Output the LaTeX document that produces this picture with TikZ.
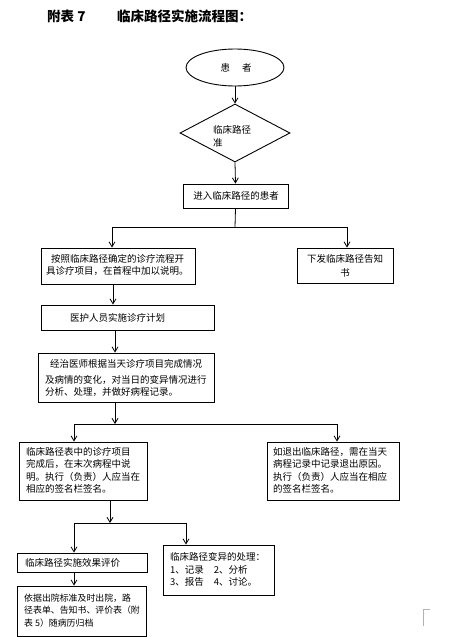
\documentclass[tikz,border=0pt]{standalone}
\usepackage{fontspec}
\setmainfont{Noto Sans CJK SC}
\usetikzlibrary{arrows.meta,shapes.geometric}
\begin{document}
\begin{tikzpicture}[x=1pt,y=-1pt,
  box/.style={draw, line width=0.9pt, inner sep=0pt, rectangle},
  txt/.style={inner sep=0pt, align=left, anchor=west, font=\fontsize{9.5}{12.5}\selectfont},
  ctxt/.style={inner sep=0pt, align=center, font=\fontsize{9.5}{14}\selectfont},
  ttl/.style={inner sep=0pt, anchor=west, font=\fontsize{13.5}{15}\selectfont\bfseries},
  arr/.style={draw, line width=0.8pt, -{Straight Barb[length=5pt,width=6pt]}},
  ln/.style={draw, line width=0.8pt}]
\useasboundingbox (0,0) rectangle (450,637);
% title
\node[ttl] (t1) at (47,16) {附表 7};
\node[ttl] (t2) at (117,16) {临床路径实施流程图：};
% shapes
\node[ellipse, draw, line width=0.9pt, inner sep=0pt, minimum width=98pt, minimum height=37pt] (ell) at (235,67.5) {};
\node[ctxt] (ellt) at (236,67.5) {患\hspace{12pt}者};
\node[diamond, draw, line width=0.9pt, inner sep=0pt, minimum width=110pt, minimum height=58pt] (dia) at (235,133) {};
\node[txt] (diat) at (213,136.5) {临床路径\\准};
\node[box, minimum width=105pt, minimum height=24pt] (b1) at (235.5,196) {};
\node[ctxt] (b1t) at (236,196) {进入临床路径的患者};
\node[box, minimum width=154pt, minimum height=36pt] (b2l) at (118,266) {};
\node[txt] (b2lt) at (46,265) {\hspace*{5pt}按照临床路径确定的诊疗流程开\\具诊疗项目，在首程中加以说明。};
\node[box, minimum width=96pt, minimum height=35pt] (b2r) at (345,265.5) {};
\node[ctxt] (b2rt) at (345,266) {下发临床路径告知\\书};
\node[box, minimum width=173pt, minimum height=25pt] (b3) at (127.5,317.5) {};
\node[txt] (b3t) at (70,317.5) {医护人员实施诊疗计划};
\node[box, minimum width=176pt, minimum height=49pt] (b4) at (126,377.5) {};
\node[txt] (b4t) at (45,378) {\hspace*{5pt}经治医师根据当天诊疗项目完成情况\\[3pt]及病情的变化，对当日的变异情况进行\\分析、处理，并做好病程记录。};
\node[box, minimum width=128pt, minimum height=58pt] (b5l) at (83,471) {};
\node[txt] (b5lt) at (26,470.5) {临床路径表中的诊疗项目\\完成后，在末次病程中说\\明。执行（负责）人应当在\\相应的签名栏签名。};
\node[box, minimum width=132pt, minimum height=58pt] (b5r) at (333,471) {};
\node[txt] (b5rt) at (273,470.5) {如退出临床路径，需在当天\\病程记录中记录退出原因。\\执行（负责）人应当在相应\\的签名栏签名。};
\node[box, minimum width=130pt, minimum height=19pt] (b6l) at (82,562.5) {};
\node[txt] (b6lt) at (25,563) {临床路径实施效果评价};
\node[box, minimum width=111pt, minimum height=50pt] (b6r) at (218.5,570) {};
\node[txt] (b6rt) at (170,569.5) {临床路径变异的处理：\\1、记录\hspace{10pt}2、分析\\3、报告\hspace{10pt}4、讨论。};
\node[box, minimum width=129pt, minimum height=50pt] (b7) at (81.5,611) {};
\node[txt, font=\fontsize{8.9}{12.5}\selectfont] (b7t) at (24,610.5) {依据出院标准及时出院，路\\径表单、告知书、评价表（附\\表 5）随病历归档};
% junctions
\coordinate (j1) at (235,227);
\coordinate (j1l) at (112,227);
\coordinate (j1r) at (347,227);
\coordinate (c113) at (113,0);
\coordinate (c115) at (115,0);
\coordinate (j2) at (115,424);
\coordinate (j2l) at (74,424);
\coordinate (j2r) at (337,424);
\coordinate (j3) at (110,523);
\coordinate (j3l) at (74,523);
\coordinate (j3r) at (186,523);
% connectors
\draw[arr] (ell.south) -- (dia.north);
\draw[arr] (dia.south) -- (b1.north);
\draw[ln] (b1.south) -- (j1);
\draw[ln] (j1l) -- (j1r);
\draw[arr] (j1l) -- (j1l |- b2l.north);
\draw[arr] (j1r) -- (j1r |- b2r.north);
\draw[arr] (b2l.south -| c113) -- (b3.north -| c113);
\draw[arr] (b3.south -| c115) -- (b4.north -| c115);
\draw[arr] (b4.south -| c115) -- (j2);
\draw[ln] (j2l) -- (j2r);
\draw[arr] (j2l) -- (j2l |- b5l.north);
\draw[arr] (j2r) -- (j2r |- b5r.north);
\draw[arr] (b5l.south -| j3) -- (j3);
\draw[ln] (j3l) -- (j3r);
\draw[arr] (j3l) -- (j3l |- b6l.north);
\draw[arr] (j3r) -- (j3r |- b6r.north);
\draw[arr] (b6l.south -| j3l) -- (b7.north -| j3l);
% corner mark
\draw[gray!60, line width=0.6pt] (423,626) -- (423,609) -- (430,609);
\end{tikzpicture}
\end{document}
